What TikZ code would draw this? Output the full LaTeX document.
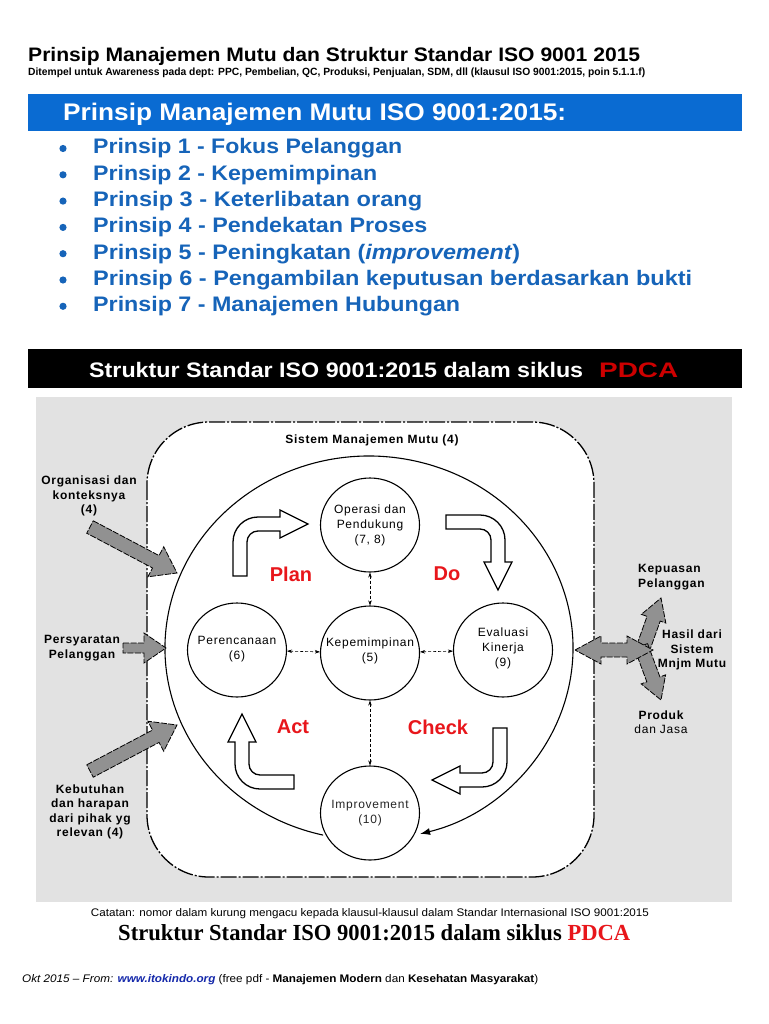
\documentclass[tikz,border=0pt]{standalone}
\usepackage{fontspec}
\usepackage{graphicx}
\setmainfont{Liberation Sans}
\newfontfamily\serf{Liberation Serif}
\newfontfamily\dfont[LetterSpace=6]{Liberation Sans}
\usetikzlibrary{calc,arrows.meta,shapes.geometric}
\definecolor{barblue}{RGB}{10,107,210}
\definecolor{txtblue}{RGB}{22,100,185}
\definecolor{pdcared}{RGB}{232,22,27}
\definecolor{darkred}{RGB}{205,0,0}
\definecolor{diagbg}{RGB}{226,226,226}
\definecolor{arrgray}{RGB}{145,145,145}
\definecolor{linkblue}{RGB}{20,40,170}
\newcommand\fitw[2]{\resizebox{#1}{\height}{#2}}
\newcommand\pdcaarrow[1]{%
 \begin{scope}[shift={(370,652)}, rotate=#1]
 \draw[hollow] (-137,-76) -- (-137,-110) arc[start angle=180,end angle=270,radius=25]
   -- (-90,-135) -- (-90,-142) -- (-62,-128) -- (-90,-114) -- (-90,-121) -- (-112,-121)
   arc[start angle=270,end angle=180,radius=11] -- (-123,-76) -- cycle;
 \end{scope}}
\newcommand\barr[6]{%
 \coordinate (#1-t) at #2; \coordinate (#1-h) at #3;
 \coordinate (#1-b) at ($(#1-h)!#6pt!(#1-t)$);
 \draw[grayarr] ($(#1-t)!#4pt!90:(#1-h)$) -- ($(#1-b)!#4pt!90:(#1-h)$) -- ($(#1-b)!#5pt!90:(#1-h)$)
   -- (#1-h) -- ($(#1-b)!#5pt!-90:(#1-h)$) -- ($(#1-b)!#4pt!-90:(#1-h)$) -- ($(#1-t)!#4pt!-90:(#1-h)$) -- cycle;}
\begin{document}
\begin{tikzpicture}[x=1pt,y=-1pt,
  txt/.style={inner sep=0pt, anchor=base west},
  ctxt/.style={inner sep=0pt, anchor=base},
  lbl/.style={inner sep=0pt, align=center, font=\dfont\bfseries\fontsize{12}{14.5}\selectfont},
  ctext/.style={inner sep=0pt, align=center, font=\dfont\fontsize{12}{15}\selectfont},
  proc/.style={ellipse, draw, line width=1.1pt, fill=white, minimum width=99pt, minimum height=94pt, inner sep=0pt},
  pdca/.style={font=\bfseries\fontsize{20}{24}\selectfont, text=pdcared, inner sep=0pt},
  hollow/.style={draw, fill=white, line width=1.3pt, line join=miter},
  grayarr/.style={draw, fill=arrgray, line width=0.8pt, dash pattern=on 6pt off 1.5pt},
  dbl/.style={densely dashed, line width=0.6pt, {Stealth[length=5pt,width=3.5pt]}-{Stealth[length=5pt,width=3.5pt]}},
  frame/.style={draw, fill=white, line width=1.3pt, dash pattern=on 16pt off 2pt on 2pt off 2pt, rounded corners=62pt},
  bul/.style={inner sep=0pt, anchor=base west, text=txtblue, font=\bfseries\fontsize{21}{24}\selectfont},
]
\useasboundingbox[fill=white] (0,0) rectangle (768,1024);

% header
\node[txt] (title) at (28,62) {\fitw{612pt}{\bfseries\fontsize{19.5}{22}\selectfont Prinsip Manajemen Mutu dan Struktur Standar ISO 9001 2015}};
\node[txt] (sub) at (28,76) {\fitw{617pt}{\bfseries\fontsize{10.5}{12}\selectfont Ditempel untuk Awareness pada dept: PPC, Pembelian, QC, Produksi, Penjualan, SDM, dll (klausul ISO 9001:2015, poin 5.1.1.f)}};

\fill[barblue] (28,94) rectangle (742,131);
\node[txt, text=white] (head) at (63,121) {\fitw{503pt}{\bfseries\fontsize{24}{28}\selectfont Prinsip Manajemen Mutu ISO 9001:2015:}};

% bullets
\foreach \i in {0,...,6} {\fill[txtblue] (63,148.5+26.3*\i) circle[radius=3.6];}
\node[bul] (p1) at (93,154) {\fitw{309pt}{Prinsip 1 - Fokus Pelanggan}};
\node[bul] (p2) at (93,180.3) {\fitw{284pt}{Prinsip 2 - Kepemimpinan}};
\node[bul] (p3) at (93,206.6) {\fitw{329pt}{Prinsip 3 - Keterlibatan orang}};
\node[bul] (p4) at (93,232.9) {\fitw{334pt}{Prinsip 4 - Pendekatan Proses}};
\node[bul] (p5) at (93,259.2) {\fitw{427pt}{Prinsip 5 - Peningkatan (\textit{improvement})}};
\node[bul] (p6) at (93,285.5) {\fitw{599pt}{Prinsip 6 - Pengambilan keputusan berdasarkan bukti}};
\node[bul] (p7) at (93,311.8) {\fitw{367pt}{Prinsip 7 - Manajemen Hubungan}};

% black bar
\fill[black] (28,349) rectangle (742,388);
\node[txt, text=white] (bbar) at (89,377) {\fitw{494pt}{\bfseries\fontsize{21}{24}\selectfont Struktur Standar ISO 9001:2015 dalam siklus}};
\node[txt, text=darkred] (bbar2) at (599,377) {\fitw{79pt}{\bfseries\fontsize{21}{24}\selectfont PDCA}};

% diagram background
\fill[diagbg] (36,397) rectangle (732,902);
\path[frame] (147,422) rectangle (594,877);
\node[lbl] (smm) at (372,440) {Sistem Manajemen Mutu (4)};

% big cycle arc
\draw[line width=1.1pt, -{Latex[length=10pt,width=7pt]}] (323.1,835.1) arc[start angle=103, end angle=435.5, x radius=204, y radius=192];

% process circles
\node[proc] (op) at (370,525) {};
\node[proc] (pr) at (237,650) {};
\node[proc] (ke) at (370,653) {};
\node[proc] (ev) at (503,650) {};
\node[proc] (im) at (370,813) {};
\node[ctext] at (370,525) {Operasi dan\\Pendukung\\(7, 8)};
\node[ctext] at (237,649) {Perencanaan\\(6)};
\node[ctext] at (370,651) {Kepemimpinan\\(5)};
\node[ctext] at (503,648) {Evaluasi\\Kinerja\\(9)};
\node[ctext, text=black!85] at (370,813) {Improvement\\(10)};

\draw[dbl] (op) -- (ke);
\draw[dbl] (pr) -- (ke);
\draw[dbl] (ke) -- (ev);
\draw[dbl] (ke) -- (im);

% PDCA hollow arrows
\pdcaarrow{0}
\pdcaarrow{-90}
\pdcaarrow{-180}
\pdcaarrow{90}

\node[pdca] (plan) at (291,574) {Plan};
\node[pdca] (do) at (447,574) {Do};
\node[pdca] (act) at (293,727) {Act};
\node[pdca] (check) at (438,727) {Check};

% left inputs
\node[lbl] (org) at (89,496) {Organisasi dan\\konteksnya\\(4)};
\node[lbl] (pers) at (82,648) {Persyaratan\\Pelanggan};
\node[lbl] (keb) at (90,812) {Kebutuhan\\dan harapan\\dari pihak yg\\relevan (4)};
\barr{aorg}{(90,527)}{(177,573)}{7}{17}{24}
\barr{apers}{(123,648)}{(166,648)}{5}{15}{22}
\barr{akeb}{(90,771)}{(177,725)}{7}{17}{24}

% right outputs
\barr{akep}{(641,654)}{(661,598)}{7}{13}{22}
\barr{aprd}{(641,646)}{(661,700)}{7}{13}{22}
\draw[grayarr] (575,650) -- (601,636) -- (601,643) -- (627,643) -- (627,636) -- (653,650)
   -- (627,664) -- (627,657) -- (601,657) -- (601,664) -- cycle;
\node[lbl, anchor=west, align=left] (kep) at (638,577) {Kepuasan\\Pelanggan};
\node[lbl] (has) at (692,650) {Hasil dari\\Sistem\\Mnjm Mutu};
\node[lbl] (prd) at (661,722) {Produk\\\mdseries dan Jasa};

% captions
\node[ctxt] (cat) at (370,916) {\fitw{558pt}{\fontsize{11}{13}\selectfont Catatan: nomor dalam kurung mengacu kepada klausul-klausul dalam Standar Internasional ISO 9001:2015}};
\node[txt] (stitle) at (118,940) {\fitw{512pt}{\serf\bfseries\fontsize{23}{26}\selectfont Struktur Standar ISO 9001:2015 dalam siklus \textcolor{pdcared}{PDCA}}};
\node[txt] (foot) at (22,982) {\fitw{516pt}{\fontsize{11}{13}\selectfont\itshape Okt 2015 – From: \textcolor{linkblue}{\bfseries www.itokindo.org} \upshape(free pdf - \textbf{Manajemen Modern} dan \textbf{Kesehatan Masyarakat})}};
\end{tikzpicture}
\end{document}
